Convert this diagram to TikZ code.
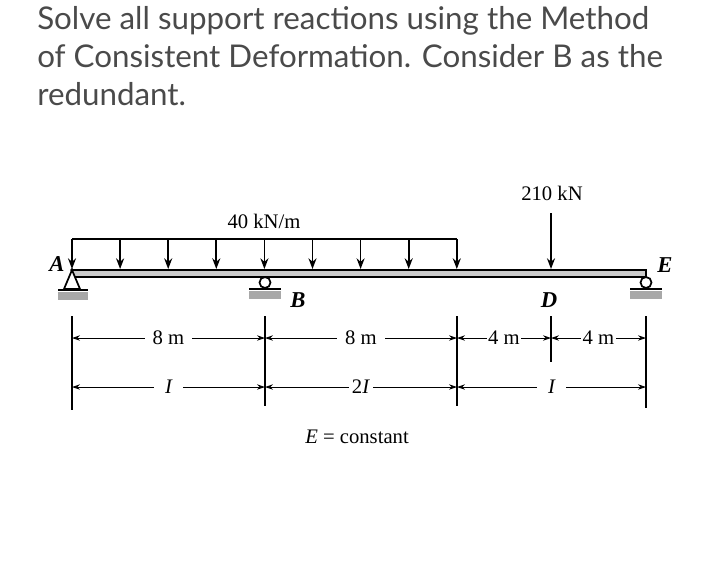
\documentclass[tikz,border=0pt]{standalone}
\usepackage{fontspec}
\setmainfont{Liberation Serif}
\newfontfamily\titlefont{Lato}
\usetikzlibrary{arrows.meta}
\definecolor{titlegray}{HTML}{4A4A4A}
\definecolor{gnd}{HTML}{A8A8A8}
\tikzset{
  x=0.75pt,y=-0.75pt,
  ld/.style={-{Stealth[length=8pt,width=6pt]},line width=1.3pt},
  dim/.style={{Stealth[length=6pt,width=4pt]}-{Stealth[length=6pt,width=4pt]},line width=0.7pt},
  ext/.style={line width=1.1pt},
  lab/.style={font=\fontsize{15.5}{15.5}\selectfont,inner sep=1pt,fill=white},
  il/.style={font=\fontsize{15.5}{15.5}\selectfont\itshape,inner sep=1pt,fill=white},
  pl/.style={font=\fontsize{17}{17}\selectfont\itshape\bfseries,inner sep=1pt},
  ttl/.style={font=\titlefont\fontsize{23.5}{28.5}\selectfont,text=titlegray,anchor=north west,align=left,inner sep=0pt}
}
\begin{document}
\begin{tikzpicture}
\useasboundingbox (0,0) rectangle (720,565);
\node[ttl] (title) at (37,6) {Solve all support reactions using the Method\\of Consistent Deformation. Consider B as the\\redundant.};
% beam
\fill[gnd!60] (72,270) rectangle (646,277);
\draw[line width=1.4pt] (72,270) rectangle (646,277);
% supports
\coordinate (A) at (72,270); \coordinate (B) at (265,277); \coordinate (E) at (646,277);
\draw[line width=1.3pt,fill=white] (A) -- (64,289) -- (80,289) -- cycle;
\fill (A) circle (1.8);
\draw[line width=2pt] (58,290) -- (88,290);
\fill[gnd] (58,292) rectangle (88,300);
\draw[line width=1.3pt,fill=white] (265,282.5) circle (5.5);
\draw[line width=2pt] (249,289) -- (281,289);
\fill[gnd] (249,291) rectangle (281,299);
\draw[line width=1.3pt,fill=white] (646,282.5) circle (5.5);
\draw[line width=2pt] (630,289) -- (662,289);
\fill[gnd] (630,291) rectangle (662,299);
% labels
\node[pl] (lA) at (57,264) {A};
\node[pl] (lB) at (298,300) {B};
\node[pl] (lD) at (549,300) {D};
\node[pl] (lE) at (665,265) {E};
% distributed load
\draw[line width=1.3pt] (72,239) -- (457,239);
\foreach \i in {0,...,8}{
  \coordinate (t\i) at (72+48.1*\i,239);
  \coordinate (h\i) at (72+48.1*\i,269);
  \draw[ld] (t\i) -- (h\i);
}
\node[lab,fill=none] (w) at (264,221) {40 kN/m};
\coordinate (Pt) at (551,213); \coordinate (Ph) at (551,269);
\draw[ld] (Pt) -- (Ph);
\node[lab,fill=none] (P) at (552,193) {210 kN};
% extension lines
\coordinate (xA1) at (72,316); \coordinate (xA2) at (72,410);
\coordinate (xB1) at (265,316); \coordinate (xB2) at (265,406);
\coordinate (xC1) at (457,316); \coordinate (xC2) at (457,406);
\coordinate (xD1) at (551,316); \coordinate (xD2) at (551,362);
\coordinate (xE1) at (646,316); \coordinate (xE2) at (646,408);
\foreach \p in {A,B,C,D,E}{\draw[ext] (x\p1) -- (x\p2);}
% dims row 1
\coordinate (a1) at (72,338); \coordinate (b1) at (265,338); \coordinate (c1) at (457,338);
\coordinate (d1) at (551,338); \coordinate (e1) at (646,338);
\draw[dim] (a1) -- node[lab,inner xsep=6pt]{8 m} (b1);
\draw[dim] (b1) -- node[lab,inner xsep=6pt]{8 m} (c1);
\draw[dim] (c1) -- node[lab]{4 m} (d1);
\draw[dim] (d1) -- node[lab]{4 m} (e1);
% dims row 2
\coordinate (a2) at (72,387); \coordinate (b2) at (265,387); \coordinate (c2) at (457,387); \coordinate (e2) at (646,387);
\draw[dim] (a2) -- node[il,inner xsep=8pt]{I} (b2);
\draw[dim] (b2) -- node[lab,inner xsep=2pt]{2\textit{I}} (c2);
\draw[dim] (c2) -- node[il,inner xsep=8pt]{I} (e2);
\node[lab,fill=none] (ec) at (357,437) {\textit{E} = constant};
\end{tikzpicture}
\end{document}
